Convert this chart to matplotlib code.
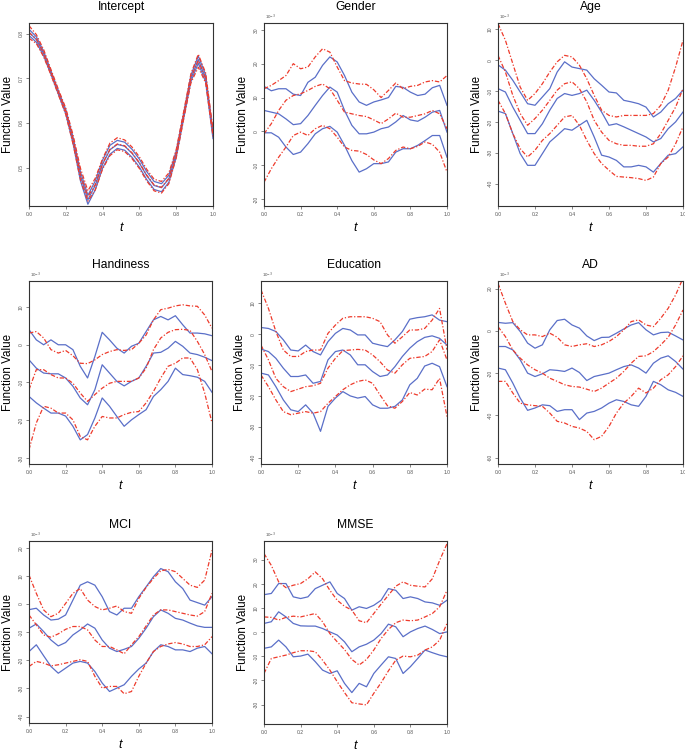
import numpy as np
import matplotlib
matplotlib.use("Agg")
import matplotlib.pyplot as plt

plt.rcParams['font.family'] = ['Liberation Sans', 'DejaVu Sans']

t = np.linspace(0, 1, 26)

# values (Intercept in raw units, others in units of 1e-3)
intercept_blue = [
    [0.810, 0.793, 0.760, 0.716, 0.672, 0.630, 0.567, 0.490, 0.438, 0.470, 0.517, 0.550, 0.561,
     0.557, 0.541, 0.519, 0.491, 0.469, 0.464, 0.483, 0.537, 0.621, 0.707, 0.750, 0.708, 0.580],
    [0.803, 0.787, 0.755, 0.712, 0.668, 0.625, 0.560, 0.480, 0.428, 0.460, 0.508, 0.540, 0.552,
     0.548, 0.532, 0.510, 0.482, 0.460, 0.455, 0.475, 0.530, 0.615, 0.700, 0.742, 0.700, 0.575],
    [0.796, 0.781, 0.750, 0.708, 0.664, 0.620, 0.553, 0.470, 0.418, 0.450, 0.499, 0.530, 0.543,
     0.539, 0.523, 0.501, 0.473, 0.451, 0.446, 0.467, 0.523, 0.609, 0.693, 0.734, 0.692, 0.565],
]
intercept_red = [
    [0.818, 0.798, 0.764, 0.719, 0.675, 0.633, 0.572, 0.498, 0.448, 0.476, 0.520, 0.555, 0.567,
     0.562, 0.546, 0.524, 0.496, 0.474, 0.469, 0.488, 0.540, 0.624, 0.710, 0.754, 0.712, 0.585],
    [0.803, 0.788, 0.756, 0.713, 0.669, 0.626, 0.562, 0.484, 0.435, 0.462, 0.509, 0.541, 0.553,
     0.549, 0.533, 0.511, 0.483, 0.461, 0.456, 0.476, 0.531, 0.616, 0.701, 0.740, 0.700, 0.575],
    [0.790, 0.778, 0.748, 0.707, 0.663, 0.619, 0.552, 0.472, 0.425, 0.450, 0.497, 0.527, 0.540,
     0.536, 0.520, 0.498, 0.470, 0.448, 0.443, 0.464, 0.522, 0.607, 0.690, 0.725, 0.690, 0.570],
]

gender_blue = [
    [13.3, 12.0, 12.6, 12.6, 11.0, 10.6, 14.5, 16.0, 19.5, 22.0, 20.5, 16.5, 11.6,
     8.7, 7.7, 8.7, 9.3, 10.0, 13.3, 13.0, 11.6, 10.6, 11.0, 12.9, 13.6, 7.7],
    [6.2, 5.7, 5.2, 3.7, 2.0, 2.3, 4.7, 7.7, 10.6, 13.1, 11.6, 6.2, 1.8,
     -0.7, -0.7, -0.2, 0.8, 1.3, 2.8, 4.7, 3.4, 3.0, 4.2, 5.7, 6.2, -0.2],
    [-0.4, -0.4, -1.7, -4.6, -6.8, -6.1, -3.6, -0.7, 0.8, 1.5, -0.2, -4.1, -8.6,
     -12.0, -11.0, -9.5, -9.5, -9.0, -6.1, -5.1, -5.1, -4.1, -2.7, -1.2, -1.2, -7.6],
]
gender_red = [
    [12.6, 13.6, 15.0, 16.5, 20.0, 18.5, 19.0, 22.0, 24.4, 23.4, 19.0, 15.0, 14.3,
     14.0, 13.9, 12.3, 10.0, 12.1, 14.3, 12.6, 13.3, 13.6, 14.6, 15.0, 14.6, 16.5],
    [-0.7, 2.3, 6.2, 9.2, 10.6, 11.1, 12.1, 13.3, 14.0, 12.6, 9.2, 5.7, 5.2,
     4.7, 4.4, 3.4, 2.3, 3.7, 5.4, 4.2, 4.2, 4.7, 5.2, 6.2, 5.2, 0.8],
    [-15.0, -11.0, -7.6, -4.6, -1.2, -0.2, -1.2, 0.8, 1.8, 0.8, -1.7, -4.6, -5.6,
     -5.8, -6.8, -8.4, -9.5, -8.0, -5.6, -4.6, -5.1, -4.4, -3.1, -3.8, -6.1, -12.0],
]

age_blue = [
    [-1.5, -3.2, -6.5, -10.3, -14.1, -14.6, -11.9, -9.2, -3.8, -0.5, -2.2, -2.7, -3.2,
     -6.0, -8.1, -10.3, -10.6, -13.0, -13.5, -14.1, -15.2, -18.4, -16.8, -14.1, -12.4, -9.7],
    [-9.2, -10.3, -15.2, -19.5, -23.8, -23.8, -20.6, -16.2, -12.4, -10.8, -11.4, -10.8, -9.7,
     -13.0, -16.8, -21.1, -20.6, -21.6, -22.7, -23.8, -24.9, -26.5, -25.4, -22.2, -20.0, -16.8],
    [-16.5, -17.3, -23.8, -30.3, -34.1, -34.1, -30.3, -26.5, -24.4, -22.2, -22.7, -21.1, -19.5,
     -24.9, -30.8, -31.4, -32.5, -34.6, -34.6, -34.1, -34.6, -36.3, -33.5, -30.8, -30.3, -28.1],
]
age_red = [
    [11.9, 6.5, -1.1, -8.7, -13.0, -10.8, -7.6, -3.8, -0.5, 1.6, 1.1, -1.6, -6.0,
     -11.4, -16.2, -17.9, -18.4, -17.9, -17.9, -17.9, -17.9, -17.3, -14.6, -9.7, -2.2, 6.5],
    [1.6, -3.8, -11.4, -17.3, -21.1, -18.9, -16.2, -13.0, -9.7, -7.6, -7.0, -9.2, -13.5,
     -19.5, -23.3, -26.0, -27.1, -27.6, -27.6, -27.9, -27.9, -27.1, -23.8, -19.5, -15.2, -9.2],
    [-13.0, -17.3, -23.8, -28.7, -31.4, -29.2, -26.0, -23.8, -21.1, -18.4, -17.9, -21.1, -26.0,
     -30.3, -33.5, -35.7, -37.7, -37.9, -38.1, -38.4, -39.0, -37.9, -33.5, -31.4, -27.1, -21.6],
]

handiness_blue = [
    [4.0, 1.3, 0.0, 1.3, 0.0, 0.0, -1.3, -5.7, -8.8, -3.1, 3.3, 1.3, -0.9,
     -2.2, -0.4, 0.4, 3.5, 6.6, 7.5, 6.6, 7.7, 5.3, 3.1, 3.1, 2.9, 2.4],
    [-4.0, -6.2, -7.5, -7.7, -7.7, -8.8, -11.0, -14.1, -15.9, -11.9, -5.3, -7.5, -9.7,
     -10.9, -9.7, -8.8, -5.7, -2.2, -2.0, -0.9, 0.9, -0.4, -2.2, -2.6, -3.3, -4.2],
    [-13.7, -15.4, -16.8, -18.1, -18.1, -18.9, -21.6, -25.2, -23.8, -19.4, -14.1, -16.3, -19.0,
     -21.6, -19.9, -18.5, -17.2, -13.7, -11.9, -9.7, -6.2, -7.9, -8.2, -8.6, -9.7, -12.6],
]
handiness_red = [
    [3.1, 3.5, 1.8, -1.3, -2.2, -1.5, -2.9, -4.9, -5.0, -4.0, -2.6, -1.8, -1.3,
     -1.5, -1.3, 0.4, 2.6, 6.6, 9.3, 9.7, 10.3, 10.6, 10.3, 10.2, 7.9, 4.4],
    [-11.9, -6.6, -6.6, -7.9, -8.8, -8.8, -10.2, -12.8, -15.0, -13.2, -11.5, -10.2, -9.7,
     -9.7, -9.7, -8.8, -6.2, -1.3, 1.8, 3.3, 4.0, 4.1, 3.8, 0.9, -2.6, -7.1],
    [-27.8, -20.7, -16.3, -16.8, -18.1, -18.1, -19.9, -24.3, -25.2, -21.6, -19.0, -19.4, -19.4,
     -18.5, -17.9, -17.7, -15.4, -12.4, -8.8, -5.7, -4.9, -3.5, -3.5, -6.6, -12.8, -20.7],
]

education_blue = [
    [2.2, 1.9, 0.9, -1.8, -5.1, -5.4, -3.5, -5.6, -6.7, -2.4, 0.3, 1.9, 1.4,
     -0.2, -0.2, -2.9, -3.5, -4.0, -1.8, 0.9, 4.9, 5.4, 5.7, 6.3, 4.6, 4.1],
    [-4.8, -5.6, -7.8, -11.0, -13.7, -13.7, -13.2, -15.9, -15.3, -8.3, -5.6, -5.1, -6.7,
     -9.9, -9.9, -12.1, -13.7, -13.2, -10.5, -7.2, -4.5, -2.4, -1.0, -0.5, -1.3, -3.5],
    [-12.6, -13.2, -17.0, -21.3, -24.5, -25.1, -22.9, -25.6, -31.5, -23.4, -20.7, -18.6, -20.0,
     -20.7, -20.2, -22.9, -24.0, -24.0, -23.4, -21.3, -16.4, -14.3, -10.3, -9.4, -10.5, -17.0],
]
education_red = [
    [14.4, 8.4, 0.9, -5.1, -7.2, -7.2, -5.6, -5.1, -5.1, 0.3, 3.0, 5.2, 5.7,
     5.7, 5.7, 5.2, 4.1, -0.2, -2.9, -0.8, 1.4, 1.4, 1.9, 4.6, 8.4, -5.0],
    [-3.5, -8.3, -14.3, -17.0, -18.6, -17.8, -17.0, -16.7, -15.9, -11.0, -7.8, -5.3, -5.1,
     -4.9, -5.1, -6.7, -8.9, -11.6, -12.6, -9.9, -7.8, -7.5, -7.2, -5.6, -1.8, -8.3],
    [-13.2, -17.0, -21.3, -25.1, -26.1, -25.6, -25.1, -25.6, -25.1, -22.4, -20.2, -18.0, -16.4,
     -15.3, -14.8, -15.9, -19.7, -23.2, -24.0, -21.8, -18.9, -19.7, -17.8, -18.0, -14.3, -26.7],
]

ad_blue = [
    [4.0, 3.6, 3.9, -0.3, -5.8, -8.2, -6.6, 0.5, 4.9, 5.5, 2.8, 1.3, -2.4,
     -4.6, -3.1, -3.0, -1.1, 0.9, 2.8, 3.9, 0.5, -1.9, -0.8, -0.6, -2.4, -4.3],
    [-7.4, -7.4, -9.0, -13.7, -20.0, -21.6, -20.3, -18.4, -18.7, -19.2, -17.6, -19.7, -23.5,
     -21.6, -20.8, -20.0, -18.4, -16.9, -16.1, -17.6, -20.0, -15.3, -12.9, -11.8, -14.5, -18.1],
    [-17.6, -18.4, -24.7, -31.8, -37.6, -36.5, -35.0, -35.4, -38.1, -37.3, -37.3, -42.0, -38.9,
     -38.1, -36.5, -34.2, -32.6, -33.4, -35.0, -35.7, -31.0, -23.9, -25.5, -27.9, -29.1, -31.0],
]
ad_red = [
    [22.5, 13.1, 4.4, 0.5, -1.9, -1.9, -2.7, -1.1, -3.0, -6.6, -7.4, -6.6, -6.1,
     -7.4, -6.6, -5.0, -2.7, 0.5, 4.4, 5.2, 2.8, 2.0, 6.0, 10.7, 17.0, 24.9],
    [2.0, -2.7, -9.0, -12.9, -16.1, -18.4, -20.0, -22.4, -23.9, -25.5, -26.3, -26.6, -27.6,
     -28.7, -27.1, -24.7, -22.4, -19.2, -15.3, -12.1, -11.8, -9.8, -6.6, -3.0, 2.8, 9.9],
    [-23.9, -23.9, -29.4, -34.2, -35.0, -35.4, -35.7, -38.9, -42.8, -43.6, -45.2, -46.0, -47.6,
     -51.5, -49.9, -45.2, -38.9, -34.2, -31.0, -27.1, -29.4, -27.1, -23.1, -20.8, -16.9, -11.8],
]

mci_blue = [
    [-2.0, -1.5, -3.9, -5.7, -5.4, -3.9, 1.4, 6.7, 7.9, 6.7, 2.6, -2.7, -3.9,
     -1.5, -1.5, 2.6, 6.1, 9.7, 12.6, 11.5, 7.9, 5.5, 1.4, 0.5, -0.4, 2.6],
    [-8.6, -7.1, -9.8, -12.8, -14.9, -13.7, -11.0, -9.2, -7.1, -8.6, -12.8, -15.7, -16.9,
     -16.1, -15.1, -12.2, -8.6, -4.5, -2.1, -3.3, -5.1, -5.7, -6.8, -7.8, -8.3, -8.3],
    [-16.9, -14.5, -18.4, -22.2, -24.6, -22.8, -21.0, -20.4, -21.0, -24.0, -28.1, -31.1, -29.9,
     -28.7, -25.7, -23.1, -21.0, -16.9, -14.5, -15.1, -16.3, -16.3, -16.9, -15.7, -15.1, -17.7],
]
mci_red = [
    [10.3, 3.8, -2.1, -4.5, -3.3, 0.2, 3.8, 5.5, 1.4, -0.9, -2.1, -1.5, -0.7,
     -2.7, -3.3, 2.0, 5.9, 9.1, 11.8, 12.3, 11.5, 9.1, 6.7, 5.9, 8.5, 19.1],
    [-3.9, -7.4, -11.0, -11.8, -10.6, -9.0, -8.0, -8.0, -9.2, -12.8, -15.1, -15.1, -16.3,
     -17.7, -14.5, -11.6, -7.8, -3.9, -2.1, -2.1, -2.7, -3.3, -3.9, -4.3, -2.7, 3.8],
    [-22.2, -20.4, -21.0, -22.0, -21.6, -21.0, -20.4, -19.8, -20.4, -25.7, -29.9, -29.3, -29.3,
     -31.9, -31.1, -25.7, -21.0, -16.9, -15.1, -14.2, -13.7, -14.2, -15.1, -15.1, -14.5, -11.6],
]

mmse_blue = [
    [15.5, 16.0, 20.1, 20.1, 14.6, 13.9, 14.6, 18.0, 19.4, 20.8, 16.0, 13.9, 9.1,
     10.5, 9.8, 11.1, 13.2, 18.0, 17.3, 13.9, 14.6, 13.9, 12.5, 12.1, 11.1, 13.2],
    [3.6, 4.3, 8.4, 6.3, 3.6, 2.6, 2.5, 2.5, 1.5, 0.1, -1.2, -4.0, -8.1,
     -6.1, -5.0, -3.3, -0.6, 3.3, 2.2, -1.9, 0.1, 1.5, 2.5, 1.1, -0.6, 0.1],
    [-6.7, -6.1, -3.3, -6.1, -10.2, -9.9, -9.1, -12.2, -15.7, -17.1, -16.0, -21.2, -25.0,
     -21.2, -22.6, -17.1, -13.6, -10.2, -10.9, -17.1, -14.3, -10.9, -7.4, -8.5, -9.5, -10.2],
]
mmse_red = [
    [32.5, 27.6, 20.8, 18.4, 19.4, 20.1, 22.1, 24.9, 22.1, 17.3, 13.2, 10.7, 9.1,
     4.7, 3.9, 7.7, 11.6, 15.3, 19.0, 20.8, 19.4, 19.0, 18.7, 22.1, 29.7, 36.6],
    [6.3, 6.1, 5.0, 6.1, 6.6, 6.3, 7.0, 7.7, 4.3, -0.6, -4.0, -7.2, -11.3,
     -13.6, -11.3, -7.4, -2.6, 1.1, 3.9, 5.0, 4.7, 5.0, 6.3, 7.7, 10.5, 17.3],
    [-17.1, -10.9, -10.2, -9.5, -8.5, -7.7, -7.7, -8.1, -11.6, -15.7, -20.5, -25.0, -29.2,
     -29.7, -30.1, -25.3, -20.9, -16.0, -11.6, -9.9, -10.2, -9.5, -7.4, -6.1, -3.3, 3.6],
]

titles = ['Intercept', 'Gender', 'Age', 'Handiness', 'Education', 'AD', 'MCI', 'MMSE']
blue_sets = [intercept_blue, gender_blue, age_blue, handiness_blue, education_blue,
             ad_blue, mci_blue, mmse_blue]
red_sets = [intercept_red, gender_red, age_red, handiness_red, education_red,
            ad_red, mci_red, mmse_red]
ylims = [(0.414, 0.824), (-22, 32), (-47.3, 12.1), (-31.6, 16.9), (-42.1, 17.3),
         (-63, 23.6), (-42.3, 22.4), (-38, 37.7)]
yticks = [[0.5, 0.6, 0.7, 0.8], [-20, -10, 0, 10, 20, 30], [-40, -30, -20, -10, 0, 10],
          [-30, -20, -10, 0, 10], [-40, -30, -20, -10, 0, 10], [-60, -40, -20, 0, 20],
          [-40, -30, -20, -10, 0, 10, 20], [-30, -20, -10, 0, 10, 20, 30]]

# axes boxes in pixels: left, right, top, bottom
boxes = [(29, 213, 23, 206), (264, 447, 23, 206), (498, 683, 23, 206),
         (29, 212, 281, 464), (261, 447, 281, 464), (498, 683, 281, 464),
         (29, 212, 541, 723), (264, 447, 541, 724)]

W, H = 685, 755
fig = plt.figure(figsize=(W / 100, H / 100), dpi=100)

blue = '#5a6fc8'
red = '#ee3b2c'

for i in range(8):
    l, r, tp, b = boxes[i]
    ax = fig.add_axes([l / W, (H - b) / H, (r - l) / W, (b - tp) / H])
    for y in blue_sets[i]:
        ax.plot(t, y, color=blue, lw=0.9)
    for y in red_sets[i]:
        ax.plot(t, y, color=red, lw=0.9, linestyle=(0, (3.5, 1.5, 1, 1.5)))
    ax.set_xlim(0, 1)
    ax.set_ylim(*ylims[i])
    ax.set_xticks([0, 0.2, 0.4, 0.6, 0.8, 1.0])
    ax.set_xticklabels(['0.0', '0.2', '0.4', '0.6', '0.8', '1.0'])
    ax.set_yticks(yticks[i])
    if i == 0:
        ax.set_yticklabels([f'{v:.1f}' for v in yticks[i]])
    else:
        ax.set_yticklabels([str(v) for v in yticks[i]])
        ax.text(0.005, 1.004, r'10$^{-3}$', transform=ax.transAxes, fontsize=3.2,
                color='#555555', ha='left', va='bottom')
    ax.tick_params(length=2, width=0.5, pad=2, labelsize=3.6, labelcolor='#555555',
                   color='#555555')
    for lab in ax.get_yticklabels():
        lab.set_rotation(90)
        lab.set_va('center')
    for s in ax.spines.values():
        s.set_linewidth(0.8)
        s.set_color('#333333')
    hpx = b - tp
    ax.text(0.5, 1 + 16 / hpx, titles[i], transform=ax.transAxes, ha='center',
            va='center', fontsize=8.7)
    ax.set_ylabel('Function Value', fontsize=8.4)
    ax.yaxis.set_label_coords(-15 / (r - l), 0.5)
    ax.set_xlabel('t', fontsize=9, style='italic')
    ax.xaxis.set_label_coords(0.5, -16 / hpx)

fig.savefig('out.png', dpi=100)
